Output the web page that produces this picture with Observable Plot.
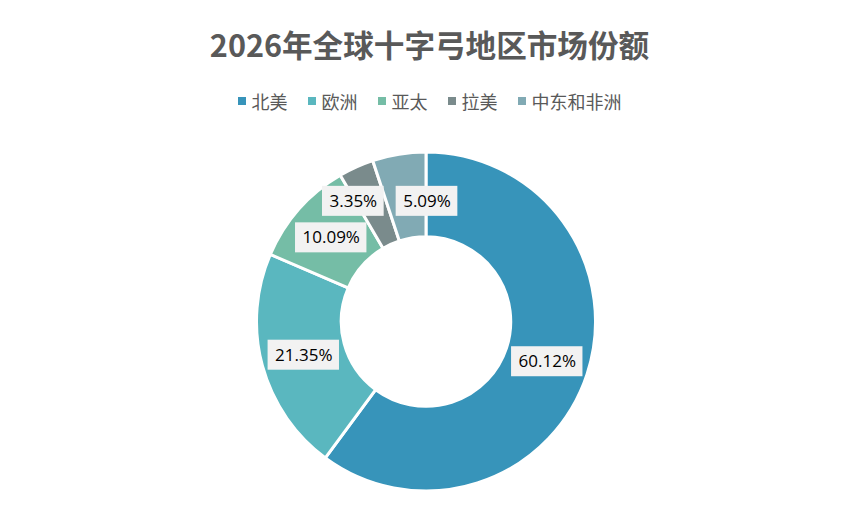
<!DOCTYPE html>
<html>
<head>
<meta charset="utf-8">
<script src="https://cdn.jsdelivr.net/npm/d3@7"></script>
<script src="https://cdn.jsdelivr.net/npm/@observablehq/plot@0.6"></script>
<style>
  body { margin: 0; background: #fff; }
  #wrap { width: 859px; height: 505px; position: relative; overflow: hidden; font-family: "Noto Sans CJK SC", "Noto Sans", sans-serif; }
  #title { height: 64px; box-sizing: border-box; padding-top: 24px; line-height: 40px; text-align: center; font-size: 30.6px; font-weight: bold; color: #595959; }
  #legend { margin-top: 24px; height: 26px; line-height: 26px; display: flex; justify-content: center; font-size: 18px; color: #595959; }
  .item { display: flex; align-items: center; margin: 0 10px; }
  .sw { width: 8px; height: 8px; margin-right: 6px; }
</style>
</head>
<body>
<div id="wrap">
  <div id="title"></div>
  <div id="legend"></div>
  <div id="chart"></div>
</div>
<script>
const title = "2026年全球十字弓地区市场份额";
const regions = ["北美", "欧洲", "亚太", "拉美", "中东和非洲"];
const shares = [60.12, 21.35, 10.09, 3.35, 5.09];
const colors = ["#3794BA", "#5AB7BF", "#75BDA6", "#7A8B8C", "#81AAB4"];

const INNER = 0.5;
const LABEL_SIZE = 17;
const LABEL_FONT = LABEL_SIZE + "px 'Open Sans'";

document.getElementById("title").textContent = title;
const legend = d3.select("#legend");
regions.forEach((r, i) => {
  const it = legend.append("div").attr("class", "item");
  it.append("div").attr("class", "sw").style("background", colors[i]);
  it.append("span").text(r);
});

const data = regions.map((r, i) => ({region: r, share: shares[i], color: colors[i]}));
const arcs = d3.pie().sort(null).value(d => d.share)(data);

const W = 859, H = 391;
const mL = 256.5, mR = 263.5, mT = 38, mB = 14;
const unit = (W - mL - mR) / 2;

const ctx = document.createElement("canvas").getContext("2d");
ctx.font = LABEL_FONT;
const padX = 7, boxH = 30;
const labels = arcs.map(a => {
  const m = (a.startAngle + a.endAngle) / 2;
  const r = (INNER + 1) / 2;
  const text = d3.format(".2f")(a.data.share) + "%";
  const w = ctx.measureText(text).width + 2 * padX;
  return {text, x: Math.sin(m) * r, y: Math.cos(m) * r, w: w / unit, h: boxH / unit};
});
const gap = 12 / unit;
for (let k = 0; k < 5; k++) {
  for (let i = 0; i < labels.length; i++) for (let j = i + 1; j < labels.length; j++) {
    const a = labels[i], b = labels[j];
    const need = (a.w + b.w) / 2 + gap;
    if (Math.abs(a.y - b.y) < (a.h + b.h) / 2 && Math.abs(a.x - b.x) < need) {
      const over = need - Math.abs(a.x - b.x);
      const s = a.x < b.x ? -1 : 1;
      a.x += s * over / 2; b.x -= s * over / 2;
      const ym = (a.y + b.y) / 2; a.y = ym; b.y = ym;
    }
  }
}
labels.forEach(l => { l.x1 = l.x - l.w / 2; l.x2 = l.x + l.w / 2; l.y1 = l.y - l.h / 2; l.y2 = l.y + l.h / 2; });

const arcMark = (index, scales) => {
  const cx = scales.x(0), cy = scales.y(0);
  const R = scales.x(1) - cx;
  const arc = d3.arc().innerRadius(R * INNER).outerRadius(R);
  const g = d3.create("svg:g").attr("transform", `translate(${cx},${cy})`);
  g.selectAll("path").data(arcs).join("path")
    .attr("d", arc)
    .attr("fill", d => d.data.color)
    .attr("stroke", "#fff")
    .attr("stroke-width", 3)
    .attr("stroke-linejoin", "round");
  return g.node();
};

const chart = Plot.plot({
  width: W, height: H,
  marginLeft: mL, marginRight: mR, marginTop: mT, marginBottom: mB,
  x: {domain: [-1, 1], axis: null},
  y: {domain: [-1, 1], axis: null},
  style: {background: "#fff", overflow: "visible"},
  marks: [
    arcMark,
    Plot.rect(labels, {x1: "x1", x2: "x2", y1: "y1", y2: "y2", fill: "#F2F2F2"}),
    Plot.text(labels, {x: "x", y: "y", text: "text", fontSize: LABEL_SIZE, fontFamily: "'Open Sans'", fill: "#000"})
  ]
});
document.getElementById("chart").appendChild(chart);
</script>
</body>
</html>
